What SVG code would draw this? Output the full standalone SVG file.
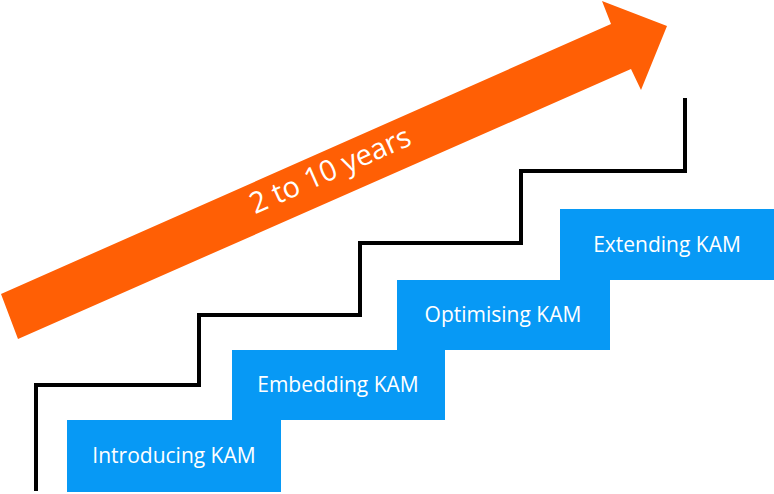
<svg xmlns="http://www.w3.org/2000/svg" width="774" height="494" viewBox="0 0 774 494">
<style>
.box{fill:#0799F5}
.lbl{font-family:"Open Sans",sans-serif;font-size:21px;fill:#fff;text-anchor:middle}
</style>
<rect width="774" height="494" fill="#fff"/>
<g id="arrow">
<polygon points="1,294 611,24 602,1 667,26 641,90 631,69 18,339" fill="#FF5F05"/>
<text class="lbl" font-size="29" transform="translate(330,170) rotate(-23.9)" y="10" style="font-size:29px">2 to 10 years</text>
</g>
<g id="connectors">
<polyline points="36,491 36,385 199,385 199,315 360,315 360,243 521,243 521,171 685,171 685,98" fill="none" stroke="#000" stroke-width="4"/>
</g>
<g id="introducing"><rect class="box" x="67" y="420" width="214" height="72"/><text class="lbl" x="174" y="463">Introducing KAM</text></g>
<g id="embedding"><rect class="box" x="232" y="350" width="213" height="70"/><text class="lbl" x="338" y="392">Embedding KAM</text></g>
<g id="optimising"><rect class="box" x="397" y="280" width="213" height="70"/><text class="lbl" x="503" y="322">Optimising KAM</text></g>
<g id="extending"><rect class="box" x="560" y="209" width="214" height="71"/><text class="lbl" x="667" y="252">Extending KAM</text></g>
</svg>
